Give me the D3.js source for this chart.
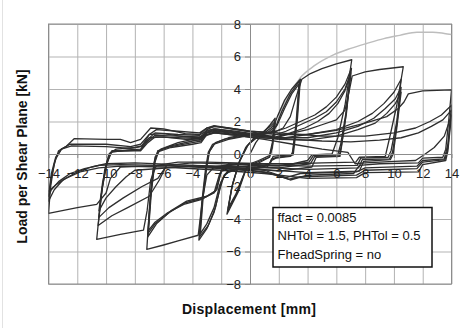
<!DOCTYPE html>
<head>
  <meta charset="utf-8">
  <title>Load - displacement</title>
  <style>
      body { margin: 0; background: #fff; }
      svg { font-family: "Liberation Sans", Arial, sans-serif; }
  </style>
  <script src="https://d3js.org/d3.v7.js"></script>
</head>
<body>
<div id="chart"></div>
<script>
    // tick values
    const xTicks = [-14, -12, -10, -8, -6, -4, -2, 0, 2, 4, 6, 8, 10, 12, 14];
    const yTicks = [-8, -6, -4, -2, 0, 2, 4, 6, 8];

    // monotonic (grey) curve
    const envelope = [[1.5, 0], [1.7, 1.2], [2.0, 2.2], [2.7, 3.6], [3.5, 4.7], [4.5, 5.45], [5.8, 6.1],
        [7.0, 6.5], [8.1, 6.8], [9.3, 7.1], [10.4, 7.3], [11.6, 7.5], [12.7, 7.5], [13.5, 7.42], [14, 7.35]];

    // cyclic curves, grouped by amplitude (mm)
    const loops175 = [
        [[0, 0], [0.4, 0.7], [0.9, 1.3], [1.4, 1.8], [1.75, 2.2], [1.55, 0.7], [1.35, -0.1], [0.6, -0.4], [0, -0.6], [-0.3, -1.0], [-0.8, -2.3], [-1.6, -3.7],
            [-1.3, -2.2], [-0.8, -0.6], [-0.3, 0.4], [0.3, 1.0]],
        [[0.3, 1.0], [0.9, 1.35], [1.4, 1.7], [1.75, 2.0], [1.55, 0.5], [1.35, -0.2], [0.5, -0.5], [-0.1, -0.7], [-0.4, -1.2], [-0.9, -2.4], [-1.55, -3.5],
            [-1.25, -2.0], [-0.75, -0.5], [-0.2, 0.5], [0.4, 1.0]],
        [[0.4, 1.0], [1.0, 1.3], [1.45, 1.6], [1.75, 1.9], [1.55, 0.4], [1.35, -0.2], [0.5, -0.6], [-0.2, -0.8], [-0.5, -1.4], [-1.0, -2.5], [-1.5, -3.3],
            [-1.2, -1.8], [-0.7, -0.4], [-0.1, 0.6], [0.6, 1.1]]
    ];

    const loops35 = [
        [[0.6, 1.1], [1.2, 1.3], [1.6, 1.6], [1.9, 2.3], [2.4, 3.3], [2.9, 4.0], [3.5, 4.6], [3.3, 2.2], [3.05, 0.3], [3.0, -0.05], [2.0, -0.1], [1.6, -0.15],
            [1.4, -0.6], [0.5, -0.8], [-0.5, -0.9], [-1.3, -1.0], [-1.8, -1.3], [-2.1, -2.2], [-2.5, -3.6], [-3.0, -4.6], [-3.55, -5.3],
            [-3.35, -3.0], [-3.1, -1.0], [-2.9, 0.1], [-2.6, 0.6], [-1.8, 0.9], [-0.5, 1.1], [0.6, 1.2]],
        [[0.6, 1.2], [1.4, 1.3], [1.8, 1.7], [2.2, 2.6], [2.8, 3.7], [3.45, 4.5], [3.25, 2.0], [3.0, 0.2], [2.9, -0.1], [1.9, -0.2], [1.5, -0.3],
            [1.3, -0.7], [0.3, -0.9], [-0.8, -0.9], [-1.6, -1.1], [-2.0, -1.7], [-2.4, -3.3], [-2.9, -4.4], [-3.5, -5.1],
            [-3.3, -2.8], [-3.05, -0.9], [-2.85, 0.1], [-2.5, 0.6], [-1.5, 0.9], [-0.3, 1.1], [0.8, 1.2]],
        [[0.8, 1.2], [1.5, 1.3], [1.9, 1.8], [2.4, 2.8], [2.9, 3.7], [3.4, 4.3], [3.2, 1.9], [2.95, 0.1], [2.8, -0.15], [1.8, -0.25], [1.5, -0.4],
            [1.2, -0.8], [0.2, -0.9], [-0.9, -0.95], [-1.7, -1.2], [-2.1, -1.9], [-2.5, -3.3], [-3.0, -4.3], [-3.45, -4.9],
            [-3.25, -2.6], [-3.0, -0.8], [-2.8, 0.2], [-2.4, 0.7], [-1.5, 1.0], [-0.3, 1.2], [1.0, 1.3]]
    ];

    const loops7 = [
        [[1.0, 1.3], [1.8, 1.4], [2.3, 1.6], [2.8, 2.3], [3.2, 3.5], [3.6, 4.6], [4.2, 4.95], [5.0, 5.25], [6.0, 5.55], [7.07, 5.8],
            [6.6, 3.0], [6.1, 1.0], [5.7, 0.0], [4.3, -0.05], [4.0, -0.4], [3.0, -0.6], [2.0, -0.7], [1.0, -0.7], [0, -0.6], [-1.0, -0.6],
            [-2.5, -0.8], [-3.0, -1.3], [-3.3, -2.8], [-3.6, -5.0], [-5.0, -5.35], [-6.0, -5.6], [-7.17, -5.87],
            [-7.0, -3.5], [-6.8, -1.4], [-6.6, -0.2], [-6.2, 0.3], [-5.0, 0.7], [-4.0, 0.9], [-3.4, 1.0], [-3.0, 1.5], [-2.5, 1.7],
            [-1.5, 1.6], [0, 1.4], [1.5, 1.3]],
        [[1.5, 1.3], [2.5, 1.6], [3.5, 2.0], [4.5, 2.4], [5.3, 2.9], [6.0, 3.5], [6.6, 4.3], [7.05, 5.27],
            [6.7, 2.7], [6.3, 0.6], [6.1, -0.05], [4.4, -0.1], [4.1, -0.5], [2.0, -0.75], [0, -0.7], [-1.5, -0.6], [-2.0, -1.0],
            [-2.3, -2.2], [-3.0, -2.6], [-4.4, -2.9], [-5.5, -3.5], [-6.5, -4.3], [-7.1, -5.1],
            [-6.9, -2.6], [-6.65, -0.6], [-6.4, 0.2], [-5.5, 0.5], [-4.0, 0.8], [-3.4, 0.9], [-3.0, 1.4], [-2.5, 1.55],
            [-1.0, 1.4], [0.5, 1.2], [1.5, 1.1]],
        [[1.5, 1.1], [2.5, 1.4], [3.5, 1.8], [4.5, 2.2], [5.3, 2.6], [6.0, 3.2], [6.6, 4.0], [7.0, 5.0],
            [6.7, 2.5], [6.35, 0.5], [6.2, -0.1], [4.5, -0.15], [4.2, -0.6], [2.0, -0.85], [0, -0.8], [-1.6, -0.7], [-2.0, -1.1],
            [-2.4, -2.3], [-3.2, -2.7], [-4.5, -3.0], [-5.6, -3.6], [-6.6, -4.3], [-7.1, -4.9],
            [-6.9, -2.4], [-6.65, -0.5], [-6.4, 0.2], [-5.5, 0.45], [-4.0, 0.7], [-3.4, 0.8], [-3.0, 1.3], [-2.5, 1.45],
            [-1.0, 1.3], [0.5, 1.15], [1.8, 1.05]],
        [[1.8, 1.05], [2.8, 1.3], [3.8, 1.6], [4.7, 2.0], [5.5, 2.5], [6.1, 3.1], [6.6, 3.9], [6.95, 4.8],
            [6.65, 2.3], [6.35, 0.4], [6.25, -0.15], [4.6, -0.2], [4.3, -0.8], [2.0, -1.05], [0, -0.9], [-1.7, -0.8], [-2.1, -1.2],
            [-2.5, -2.4], [-3.4, -2.8], [-4.6, -3.1], [-5.7, -3.6], [-6.6, -4.2], [-7.05, -4.7],
            [-6.85, -2.3], [-6.6, -0.5], [-6.35, 0.15], [-5.5, 0.4], [-4.0, 0.6], [-3.4, 0.7], [-3.0, 1.2], [-2.5, 1.35],
            [-1.0, 1.2], [0.5, 1.1], [1.8, 1.0]]
    ];

    const loops105 = [
        [[1.8, 1.0], [3, 1.3], [4, 1.5], [5, 1.8], [6, 2.1], [6.6, 2.7], [6.9, 3.9], [7.1, 4.8], [8, 5.05], [9, 5.2], [10.65, 5.37],
            [10.2, 3.0], [9.7, 1.0], [9.4, -0.15], [7.6, -0.2], [7.35, -0.5], [5, -0.55], [3, -0.6], [1, -0.6], [-1, -0.55], [-3, -0.5],
            [-5, -0.5], [-6.5, -0.7], [-6.9, -1.6], [-7.15, -3.5], [-7.4, -4.68], [-9, -4.95], [-10.65, -5.25],
            [-10.4, -3.0], [-10.1, -1.0], [-9.8, 0.0], [-9.3, 0.3], [-8, 0.4], [-7.5, 0.5], [-7.0, 1.2], [-6.5, 1.5], [-5, 1.4],
            [-3.5, 1.3], [-3.0, 1.6], [-2.4, 1.7], [-1, 1.5], [0.5, 1.3], [2, 1.2]],
        [[2, 1.2], [4, 1.2], [6, 1.5], [7.5, 2.0], [8.5, 2.5], [9.3, 3.1], [10, 3.8], [10.5, 4.6],
            [10.2, 2.0], [9.8, 0.2], [9.6, -0.2], [7.7, -0.25], [7.45, -0.7], [4, -0.75], [0, -0.65], [-4, -0.55], [-5.8, -0.7],
            [-6.3, -1.6], [-7, -2.6], [-8.5, -3.3], [-9.6, -3.8], [-10.55, -4.4],
            [-10.3, -2.3], [-10.0, -0.8], [-9.7, 0.1], [-8.5, 0.25], [-7.6, 0.3], [-7.1, 0.9], [-6.6, 1.3], [-5, 1.2],
            [-3.5, 1.15], [-3, 1.45], [-2.4, 1.55], [-1, 1.35], [0.5, 1.15], [2, 1.0]],
        [[2, 1.0], [4, 1.0], [6, 1.3], [7.5, 1.7], [8.6, 2.2], [9.4, 2.8], [10.1, 3.4], [10.5, 4.1],
            [10.2, 1.8], [9.9, 0.1], [9.7, -0.3], [7.8, -0.35], [7.55, -0.85], [4, -0.95], [0, -0.8], [-4, -0.7], [-5.9, -0.85],
            [-6.4, -1.5], [-7.5, -2.0], [-8.8, -2.7], [-9.8, -3.3], [-10.5, -3.9],
            [-10.25, -2.0], [-9.95, -0.6], [-9.6, 0.15], [-8.5, 0.2], [-7.6, 0.25], [-7.1, 0.8], [-6.6, 1.15], [-5, 1.1],
            [-3.5, 1.05], [-3, 1.3], [-2.4, 1.4], [-1, 1.25], [0.5, 1.05], [2, 0.9]],
        [[2, 0.9], [4, 0.85], [6, 1.1], [7.5, 1.5], [8.7, 1.9], [9.5, 2.5], [10.1, 3.1], [10.5, 3.8],
            [10.2, 1.6], [9.95, 0.0], [9.75, -0.35], [7.9, -0.45], [7.6, -1.05], [4, -1.15], [0, -0.9], [-4, -0.75], [-8.0, -1.0],
            [-8.6, -1.4], [-9.3, -2.0], [-10.0, -2.7], [-10.5, -3.5],
            [-10.25, -1.8], [-9.95, -0.5], [-9.6, 0.2], [-8.5, 0.2], [-7.6, 0.2], [-7.1, 0.7], [-6.6, 1.05], [-5, 1.0],
            [-3.5, 0.95], [-3, 1.2], [-2.4, 1.3], [-1, 1.15], [0.5, 1.0], [2, 0.95]]
    ];

    const loops14 = [
        [[2, 0.95], [4, 1.2], [6, 1.45], [8, 1.9], [9.5, 2.3], [10.3, 2.8], [10.7, 3.2], [11, 3.7], [12, 3.88], [14, 3.94],
            [13.8, 2.0], [13.6, 0.3], [13.4, -0.2], [12, -0.25], [11.7, -0.55], [9, -0.6], [7.6, -0.7], [7.2, -1.2], [4, -1.3],
            [2.8, -1.6], [1.5, -1.2], [0, -1.0], [-3, -0.8], [-6, -0.7], [-9, -0.8], [-9.7, -1.5], [-10.0, -2.4], [-10.65, -3.1],
            [-12, -3.3], [-14, -3.65],
            [-13.85, -2.0], [-13.6, -0.6], [-13.3, 0.2], [-12.8, 0.45], [-12.2, 0.95], [-10, 0.9], [-9, 0.9], [-8.3, 0.7],
            [-7.6, 0.9], [-6.9, 1.6], [-6, 1.55], [-4.5, 1.25], [-3.5, 1.2], [-3, 1.6], [-2.5, 1.75], [-1.5, 1.6], [0, 1.4], [2, 1.3]],
        [[2, 1.3], [5, 1.1], [8, 1.1], [10, 1.3], [11.5, 1.6], [12.5, 2.0], [13.3, 2.4], [14, 3.0],
            [13.75, 0.6], [13.5, -0.3], [12, -0.4], [11.6, -0.75], [8, -0.85], [7.4, -1.1], [3.5, -1.2], [2.5, -1.45], [1, -1.0],
            [-2, -0.8], [-5, -0.65], [-8, -0.55], [-10, -0.6], [-11, -0.8], [-12, -1.1], [-13, -1.6], [-13.6, -2.2], [-14, -2.9],
            [-13.8, -1.4], [-13.5, -0.3], [-13.1, 0.3], [-12.5, 0.6], [-10, 0.6], [-8.3, 0.45], [-7.6, 0.6], [-7.0, 1.2], [-6, 1.25],
            [-4.5, 1.05], [-3.5, 1.0], [-3, 1.35], [-2.5, 1.5], [-1, 1.3], [1, 1.1], [3, 0.9]],
        [[3, 0.9], [5, 0.8], [7, 0.75], [9, 0.85], [10.5, 1.0], [11.7, 1.3], [12.6, 1.7], [13.4, 2.1], [14, 2.7],
            [13.75, 0.4], [13.55, -0.35], [12, -0.5], [11.6, -0.9], [8, -1.0], [7.4, -1.3], [3.5, -1.4], [2.7, -1.55], [1, -1.1],
            [-2, -0.9], [-6, -0.7], [-9, -0.65], [-10.5, -0.7], [-11.5, -0.9], [-12.5, -1.2], [-13.3, -1.7], [-13.8, -2.2], [-14, -2.6],
            [-13.8, -1.2], [-13.5, -0.2], [-13.1, 0.3], [-12.4, 0.5], [-10, 0.45], [-8.3, 0.35], [-7.6, 0.45], [-7.0, 1.0], [-6, 1.05],
            [-4.5, 0.9], [-3.5, 0.85], [-3, 1.15], [-2.5, 1.3], [-1, 1.15], [1, 0.9], [3, 0.6]],
        [[3, 0.6], [5, 0.3], [6.8, 0.1], [7.3, -0.6], [8, -0.55], [10, -0.45], [11.5, -0.4], [12.1, -0.05], [12.8, 0.4], [13.5, 1.1], [14, 2.4],
            [13.75, 0.2], [13.6, -0.4], [12, -0.65], [11.7, -1.1], [8, -1.15], [7.4, -1.45], [4, -1.5], [1, -1.2], [-2, -1.0],
            [-6, -0.8], [-9, -0.75], [-10.5, -0.85], [-11.8, -1.1], [-12.8, -1.5], [-13.5, -1.9], [-14, -2.3]]
    ];

    const legendLines = ["ffact = 0.0085", "NHTol = 1.5, PHTol = 0.5", "FheadSpring = no"];

    const width = 474, height = 331;
    const plotLeft = 48.5, plotRight = 451.5, plotTop = 24, plotBottom = 284;

    const svg = d3.select("#chart").append("svg")
        .attr("width", width)
        .attr("height", height);

    const x = d3.scaleLinear().domain([-14, 14]).range([plotLeft, plotRight]);
    const y = d3.scaleLinear().domain([-8, 8]).range([plotBottom, plotTop]);

    // faint frame line on the left edge
    svg.append("line")
        .attr("x1", 2.5).attr("x2", 2.5).attr("y1", 0).attr("y2", 328)
        .style("stroke", "#e2e2e2");

    // grid
    svg.append("g")
        .attr("transform", `translate(0, ${plotBottom})`)
        .call(d3.axisBottom(x).tickValues(xTicks).tickSize(-(plotBottom - plotTop)).tickFormat(""))
        .call(g => g.select(".domain").remove())
        .selectAll("line").style("stroke", "#b3b3b3");
    svg.append("g")
        .attr("transform", `translate(${plotLeft}, 0)`)
        .call(d3.axisLeft(y).tickValues(yTicks).tickSize(-(plotRight - plotLeft)).tickFormat(""))
        .call(g => g.select(".domain").remove())
        .selectAll("line").style("stroke", "#b3b3b3");

    svg.append("rect")
        .attr("x", plotLeft).attr("y", plotTop)
        .attr("width", plotRight - plotLeft).attr("height", plotBottom - plotTop)
        .style("fill", "none").style("stroke", "#8c8c8c");

    // clip for curves
    svg.append("clipPath").attr("id", "plot")
        .append("rect")
        .attr("x", plotLeft).attr("y", plotTop)
        .attr("width", plotRight - plotLeft).attr("height", plotBottom - plotTop);

    const line = d3.line()
        .x(d => x(d[0]))
        .y(d => y(d[1]));

    const curves = svg.append("g").attr("clip-path", "url(#plot)");

    curves.append("path")
        .datum(envelope)
        .attr("d", line.curve(d3.curveMonotoneX))
        .style("fill", "none")
        .style("stroke", "#bdbdbd")
        .style("stroke-width", 1.5);

    line.curve(d3.curveLinear);
    const allLoops = [].concat(loops175, loops35, loops7, loops105, loops14);
    curves.selectAll(".loop")
        .data(allLoops)
        .join("path")
        .attr("class", "loop")
        .attr("d", line)
        .style("fill", "none")
        .style("stroke", "#2e2e2e")
        .style("stroke-width", 1.3)
        .style("stroke-linejoin", "round");

    // axes through the origin
    const xAxis = svg.append("g")
        .attr("transform", `translate(0, ${y(0)})`)
        .call(d3.axisBottom(x).tickValues(xTicks).tickSize(4).tickPadding(11).tickSizeOuter(0));
    const yAxis = svg.append("g")
        .attr("transform", `translate(${x(0)}, 0)`)
        .call(d3.axisLeft(y).tickValues(yTicks).tickSize(5).tickPadding(4).tickSizeOuter(0));

    [xAxis, yAxis].forEach(g => {
        g.select(".domain").style("stroke", "#8c8c8c");
        g.selectAll(".tick line").style("stroke", "#8c8c8c");
        g.selectAll("text")
            .style("font-family", "'Liberation Sans', Arial, sans-serif")
            .style("font-size", "13px")
            .style("fill", "#222");
    });

    // axis titles
    svg.append("text")
        .attr("x", 249)
        .attr("y", 314)
        .attr("text-anchor", "middle")
        .style("font-size", "14px")
        .style("font-weight", "bold")
        .style("letter-spacing", "0.3px")
        .style("fill", "#111")
        .text("Displacement [mm]");

    svg.append("text")
        .attr("transform", `translate(27, 156.5) rotate(-90)`)
        .attr("text-anchor", "middle")
        .style("font-size", "14px")
        .style("font-weight", "bold")
        .style("fill", "#111")
        .text("Load per Shear Plane [kN]");

    // legend box
    const legend = svg.append("g");
    legend.append("rect")
        .attr("x", 273).attr("y", 207.5)
        .attr("width", 159).attr("height", 59.5)
        .style("fill", "#fff")
        .style("stroke", "#111")
        .style("stroke-width", 1.5);
    legend.selectAll("text")
        .data(legendLines)
        .join("text")
        .attr("x", 277.5)
        .attr("y", (d, i) => 221.5 + i * 18.7)
        .style("font-size", "13px")
        .style("fill", "#111")
        .text(d => d);
</script>
</body>
